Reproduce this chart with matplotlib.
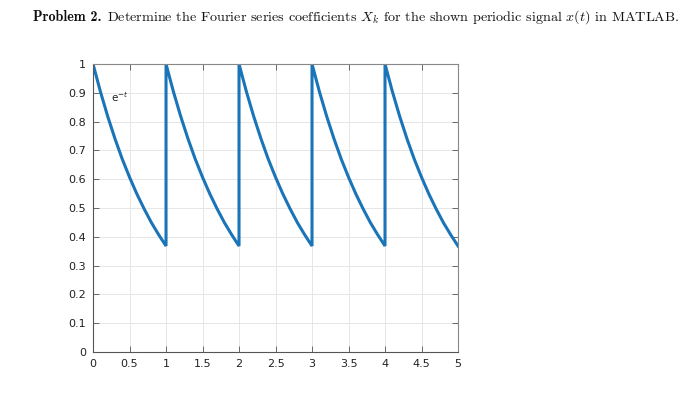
import numpy as np
import matplotlib.pyplot as plt

# one period of the signal (e^-t on 0..1)
t_period = [0.0, 0.1, 0.2, 0.3, 0.4, 0.5, 0.6, 0.7, 0.8, 0.9, 1.0]
x_period = [1.0, 0.905, 0.819, 0.741, 0.670, 0.607, 0.549, 0.497, 0.449, 0.407, 0.368]
period_starts = [0, 1, 2, 3, 4]

xticks = [0, 0.5, 1, 1.5, 2, 2.5, 3, 3.5, 4, 4.5, 5]
xticklabels = ['0', '0.5', '1', '1.5', '2', '2.5', '3', '3.5', '4', '4.5', '5']
yticks = [0, 0.1, 0.2, 0.3, 0.4, 0.5, 0.6, 0.7, 0.8, 0.9, 1]
yticklabels = ['0', '0.1', '0.2', '0.3', '0.4', '0.5', '0.6', '0.7', '0.8', '0.9', '1']

plt.rcParams['mathtext.fontset'] = 'cm'
plt.rcParams['axes.unicode_minus'] = False

# build the periodic signal (vertical jump at each period start)
t = []
x = []
for s in period_starts:
    t += [s + v for v in t_period]
    x += x_period

fig = plt.figure(figsize=(7, 4.05), dpi=100)
ax = fig.add_axes([0.1329, 0.1309, 0.5214, 0.7111])

# heading: bold part, then the rest right after it
head = fig.text(0.047, 0.957, 'Problem 2.', ha='left', va='center',
                fontsize=10.2, family='cmb10', color='#111111')
fig.canvas.draw()
bb = head.get_window_extent()
fig.text(bb.x1 / fig.bbox.width + 0.008, 0.957,
         r'Determine the Fourier series coefficients $X_k$ '
         r'for the shown periodic signal $x(t)$ in MATLAB.',
         ha='left', va='center', fontsize=10.2, family='cmr10', color='#111111')

ax.plot(t, x, color='#1a74b8', lw=2.2, solid_joinstyle='miter')
ax.text(0.37, 0.885, r'e$^{-t}$', fontsize=7.5, color='#222222',
        ha='center', va='center', math_fontfamily='dejavusans')

ax.set_xlim(0, 5)
ax.set_ylim(0, 1)
ax.set_xticks(xticks)
ax.set_xticklabels(xticklabels)
ax.set_yticks(yticks)
ax.set_yticklabels(yticklabels)
ax.tick_params(direction='in', top=True, right=True, length=4, width=0.6,
               color='#555555', labelsize=8, labelcolor='#222222', pad=5)
ax.grid(True, color='#e6e6e6', lw=0.7)
ax.set_axisbelow(True)
for side in ['left', 'bottom']:
    ax.spines[side].set_color('#555555')
    ax.spines[side].set_linewidth(0.8)
for side in ['top', 'right']:
    ax.spines[side].set_color('#888888')
    ax.spines[side].set_linewidth(0.8)

fig.savefig('out.png', dpi=100)
